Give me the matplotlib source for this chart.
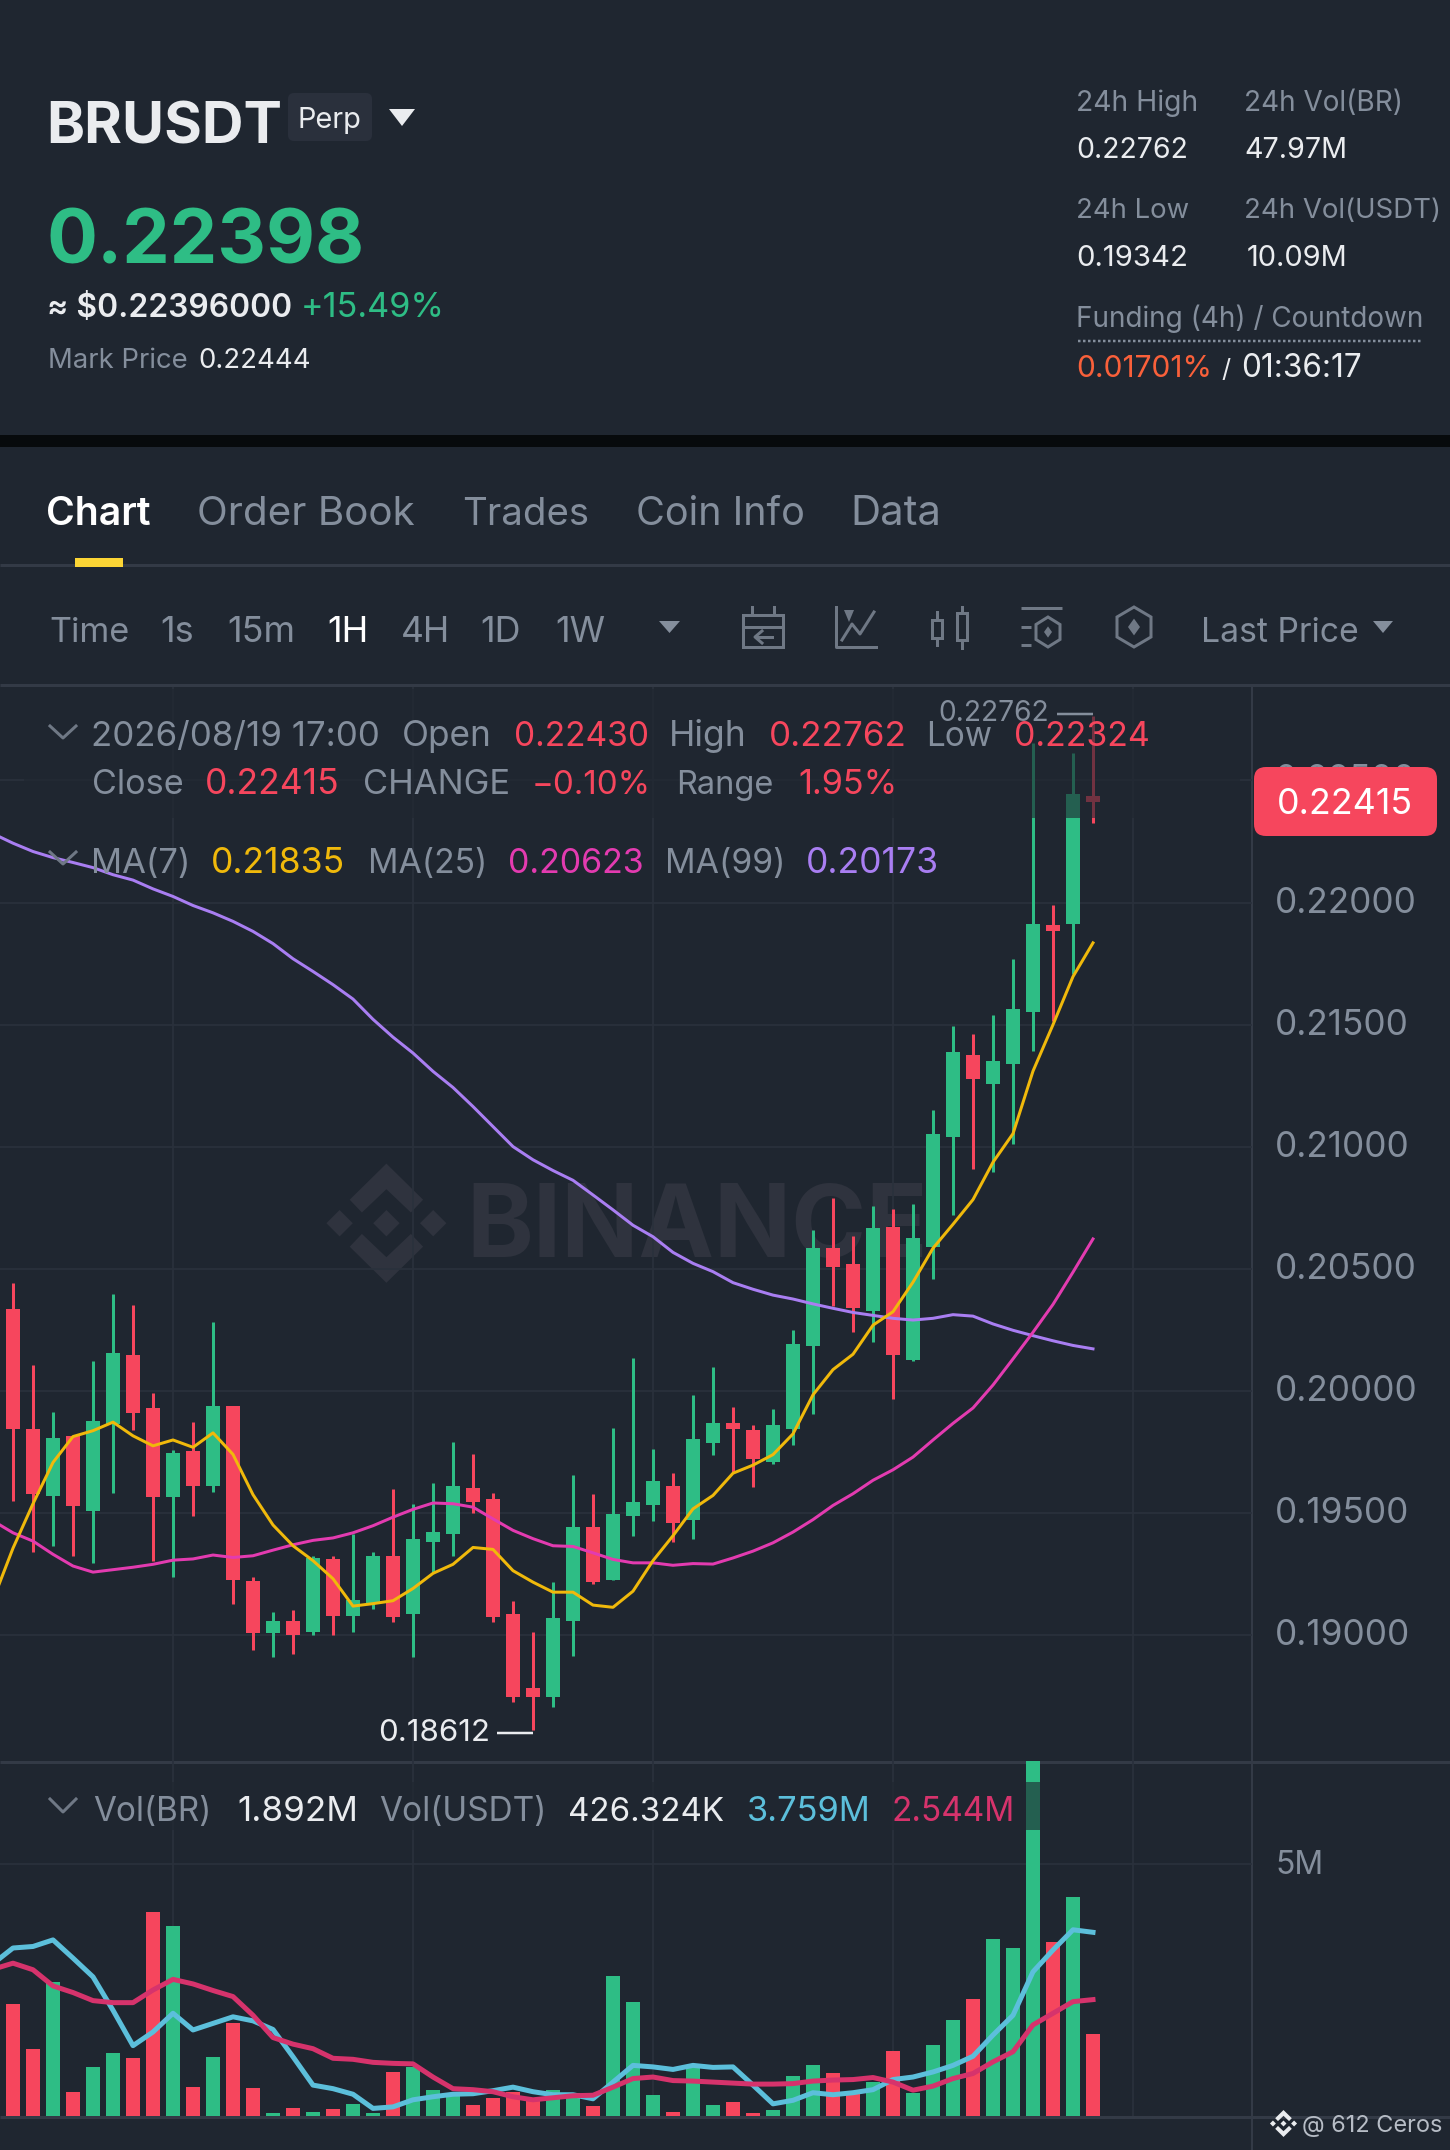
import matplotlib
matplotlib.use("Agg")
import matplotlib.pyplot as plt
from matplotlib.patches import Rectangle, Polygon, FancyBboxPatch
from matplotlib.textpath import TextPath
from matplotlib.font_manager import FontProperties
from matplotlib.transforms import ScaledTranslation

FAMILY = ['Inter', 'Noto Sans', 'DejaVu Sans']
plt.rcParams['font.family'] = FAMILY

# ---------- data ----------
opens = [.20335,.19846,.19572,.19817,.19510,.19864,.20146,.19931,.19566,.19754,.19610,.19939,.19221,.19010,.19057,
         .19015,.19313,.19079,.19130,.19327,.19088,.19383,.19415,.19604,.19557,.19086,.18784,.18747,.19060,.19442,
         .19225,.19488,.19535,.19610,.19474,.19788,.19868,.19842,.19709,.19846,.20183,.20586,.20520,.20330,.20671,
         .20126,.20592,.21039,.21376,.21257,.21339,.21553,.21908,.21914,.22430]
closes = [.19845,.19579,.19810,.19529,.19876,.20156,.19912,.19566,.19747,.19610,.19940,.19228,.19010,.19058,.19003,
          .19316,.19079,.19145,.19323,.19076,.19393,.19425,.19610,.19545,.19076,.18747,.18747,.19072,.19442,.19219,
          .19499,.19545,.19632,.19459,.19803,.19870,.19845,.19724,.19861,.20193,.20586,.20510,.20339,.20668,.20146,
          .20627,.21053,.21389,.21276,.21351,.21563,.21914,.21885,.22443,.22415]
highs = [.20444,.20107,.19914,.19817,.20123,.20396,.20354,.19993,.19759,.19873,.20282,.19940,.19238,.19095,.19102,
         .19327,.19325,.19415,.19341,.19598,.19539,.19623,.19791,.19744,.19583,.19140,.19012,.19218,.19655,.19579,
         .19851,.20137,.19762,.19665,.19985,.20097,.19933,.19861,.19925,.20249,.20658,.20792,.20636,.20757,.20747,
         .20768,.21152,.21496,.21463,.21539,.21769,.22655,.21990,.22614,.22762]
lows = [.19550,.19341,.19364,.19325,.19298,.19583,.19839,.19306,.19240,.19490,.19588,.19129,.18940,.18912,.18924,
        .19000,.19003,.19012,.19110,.19053,.18912,.19259,.19327,.19500,.19053,.18727,.18612,.18706,.18915,.19211,
        .19225,.19406,.19468,.19383,.19395,.19737,.19664,.19607,.19703,.19781,.19905,.20347,.20244,.20202,.19969,
        .20124,.20458,.20722,.20908,.20898,.21013,.21393,.21515,.21709,.22324]
ma7 = [.19145,.19357,.19539,.19708,.19814,.19838,.19873,.19817,.19776,.19800,.19770,.19829,.19741,.19576,.19452,
       .19367,.19306,.19232,.19120,.19130,.19142,.19192,.19254,.19291,.19360,.19352,.19265,.19218,.19177,.19177,
       .19124,.19115,.19181,.19306,.19408,.19518,.19573,.19664,.19697,.19740,.19825,.19985,.20088,.20151,.20270,
       .20325,.20446,.20585,.20683,.20784,.20937,.21054,.21310,.21500,.21697,.21835]
ma25 = [.19469,.19420,.19386,.19332,.19284,.19259,.19269,.19279,.19291,.19308,.19313,.19329,.19319,.19326,.19349,
        .19371,.19389,.19399,.19420,.19449,.19484,.19516,.19542,.19539,.19525,.19477,.19430,.19396,.19367,.19364,
        .19338,.19311,.19297,.19297,.19287,.19294,.19292,.19317,.19345,.19379,.19423,.19474,.19532,.19580,.19635,
        .19678,.19730,.19800,.19868,.19931,.20025,.20132,.20241,.20355,.20487,.20623]
ma99 = [.22282,.22243,.22209,.22184,.22164,.22143,.22114,.22092,.22056,.22025,.21988,.21958,.21923,.21882,.21832,
        .21770,.21718,.21664,.21605,.21522,.21449,.21384,.21309,.21243,.21165,.21083,.21001,.20947,.20903,.20863,
        .20803,.20742,.20679,.20632,.20568,.20523,.20489,.20444,.20417,.20393,.20377,.20357,.20339,.20322,.20310,
        .20298,.20291,.20298,.20313,.20307,.20275,.20249,.20227,.20206,.20187,.20173]
volumes = [2.24,1.35,2.66,.49,.98,1.27,1.16,4.06,3.78,.60,1.18,1.85,.58,.07,.17,.10,.15,.26,.07,.89,.98,.54,.46,.24,
           .37,.49,.35,.53,.48,.21,2.79,2.27,.44,.10,.99,.23,.29,.07,.13,.81,1.02,.87,.46,.70,1.31,.48,1.42,1.92,
           2.33,3.52,3.34,7.30,3.45,4.35,1.64]
vol_ma5 = [3.03,3.34,3.37,3.50,3.14,2.77,2.11,1.41,1.68,2.05,1.72,1.85,1.98,1.90,1.73,1.19,.63,.56,.45,.17,.20,.34,
           .40,.45,.46,.52,.59,.50,.44,.44,.36,.69,1.02,.99,.94,1.02,.98,.99,.63,.26,.33,.48,.44,.48,.54,.74,.79,
           .89,1.02,1.20,1.62,2.01,2.87,3.30,3.70,3.65]
vol_ma10 = [2.92,3.04,2.91,2.59,2.46,2.30,2.26,2.26,2.51,2.72,2.63,2.50,2.38,2.01,1.57,1.44,1.35,1.16,1.14,1.08,1.06,
            1.05,.79,.56,.54,.50,.40,.34,.38,.42,.43,.59,.76,.79,.72,.71,.69,.67,.65,.65,.66,.71,.73,.74,.78,.69,
            .53,.61,.76,.86,1.09,1.29,1.82,2.05,2.28,2.32]
price_ticks = [.19, .195, .20, .205, .21, .215, .22, .225]
price_labels = ['0.19000', '0.19500', '0.20000', '0.20500', '0.21000', '0.21500', '0.22000', '0.22500']
vol_ticks = [5]
vol_labels = ['5M']
time_ticks = [8, 20, 32, 44, 56]

# ---------- style ----------
W, H = 1450, 2150
BG = '#1F2630'
GRID = '#2A313C'
LINE = '#333A46'
GREEN = '#2EBD85'
RED = '#F6465D'
GRAY = '#848E9C'
WHITE = '#EAECEF'
YEL = '#F0B90B'
MAG = '#E33BB0'
PUR = '#A97EF2'
BLUE = '#5CBFDB'
CRIM = '#D6336C'
WM = '#2F333E'
px = 0.72  # points per pixel at dpi 100

fig = plt.figure(figsize=(W / 100, H / 100), dpi=100, facecolor=BG)


def pos(x0, y0, x1, y1):
    return [x0 / W, 1 - y1 / H, (x1 - x0) / W, (y1 - y0) / H]


under = fig.add_axes([0, 0, 1, 1], zorder=0)
over = fig.add_axes([0, 0, 1, 1], zorder=5)
for a in (under, over):
    a.set_xlim(0, W)
    a.set_ylim(H, 0)
    a.axis('off')
    a.patch.set_alpha(0)

# price panel: top 687, bottom 1761; 0.19 at 1635.4; 24428 px per unit
PX = 24428
ax = fig.add_axes(pos(0, 687, 1252, 1761), zorder=2)
ax.set_ylim(.19 - (1761 - 1635.4) / PX, .19 + (1635.4 - 687) / PX)
vx = fig.add_axes(pos(0, 1761, 1252, 2117), zorder=2)
vx.set_ylim(0, (2117 - 1761) / 50.6)
for a, size, pad in ((ax, 35.2, 23), (vx, 32, 23)):
    a.set_xlim(-0.65, 61.95)
    a.patch.set_alpha(0)
    for s in a.spines.values():
        s.set_visible(False)
    a.set_xticks(time_ticks)
    a.set_xticklabels([])
    a.tick_params(axis='x', length=0)
    a.tick_params(axis='y', length=0, left=False, right=True, labelleft=False, labelright=True,
                  labelsize=size * px, labelcolor=GRAY, pad=pad * px)
    a.grid(True, color=GRID, lw=1.8 * px, zorder=0)
    a.set_axisbelow(True)
ax.set_yticks(price_ticks)
ax.set_yticklabels(price_labels)
vx.set_yticks(vol_ticks)
vx.set_yticklabels(vol_labels)
for a, dy in ((ax, 3), (vx, 2)):
    for lab in a.get_yticklabels():
        lab.set_transform(lab.get_transform() + ScaledTranslation(0, dy / 100, fig.dpi_scale_trans))

idx = list(range(len(opens)))
colors = [GREEN if c >= o else RED for o, c in zip(opens, closes)]
ax.vlines(idx, lows, highs, colors=colors, lw=3 * px, zorder=3)
MIN_BODY = 0.00025
ax.bar(idx, [max(abs(c - o), MIN_BODY) for o, c in zip(opens, closes)],
       bottom=[min(o, c) if abs(c - o) >= MIN_BODY else (o + c - MIN_BODY) / 2 for o, c in zip(opens, closes)],
       width=0.68, color=colors, lw=0, zorder=3)
lx = list(range(-1, len(opens)))
ax.plot(lx, ma99, color=PUR, lw=3 * px, zorder=4, solid_joinstyle='round')
ax.plot(lx, ma25, color=MAG, lw=3 * px, zorder=4, solid_joinstyle='round')
ax.plot(lx, ma7, color=YEL, lw=3 * px, zorder=5, solid_joinstyle='round')

vx.bar(idx, volumes, width=0.68, color=colors, lw=0, zorder=3)
vx.plot(lx, vol_ma5, color=BLUE, lw=5 * px, zorder=4, solid_joinstyle='round')
vx.plot(lx, vol_ma10, color=CRIM, lw=5 * px, zorder=5, solid_joinstyle='round')


# ---------- helpers ----------
def fit(x0, x1, base, s, color=GRAY, weight='normal', a=over, z=8, cap=None):
    """Place s so that its ink spans x0..x1 in pixels, with the font size capped at cap pixels."""
    fp = FontProperties(family=FAMILY, weight=weight)
    bb = TextPath((0, 0), s, size=100, prop=fp).get_extents()
    F = (x1 - x0) / bb.width * 100
    if cap is not None:
        F = min(F, cap)
    return a.text(x0 - bb.x0 * F / 100, base, s, color=color, fontsize=F * px, fontweight=weight,
                  ha='left', va='baseline', zorder=z)


def hline(a, x0, x1, y, c, lw, z=6, **k):
    a.plot([x0, x1], [y, y], color=c, lw=lw * px, zorder=z, solid_capstyle='butt', **k)


def chevron(x0, x1, y0, y1):
    over.plot([x0, (x0 + x1) / 2, x1], [y0, y1, y0], color='#6F7885', lw=3 * px, zorder=8)


def tri(x0, x1, y0, y1, c):
    over.add_patch(Polygon([(x0, y0), (x1, y0), ((x0 + x1) / 2, y1)], closed=True, color=c, lw=0, zorder=8))


def logo(a, cx, cy, k, c, z):
    D = 13.2 * k
    for dx in (-46.8 * k, 0, 46.8 * k):
        a.add_patch(Polygon([(cx + dx - D, cy), (cx + dx, cy - D), (cx + dx + D, cy), (cx + dx, cy + D)],
                            closed=True, color=c, lw=0, zorder=z))
    for sgn in (1, -1):
        pts = [(0, 59.6), (36.7, 23.5), (24.5, 10.7), (0, 34), (-24.5, 10.7), (-36.7, 23.5)]
        a.add_patch(Polygon([(cx + p * k, cy + sgn * q * k) for p, q in pts], closed=True, color=c, lw=0, zorder=z))


# ---------- frame ----------
under.add_patch(Rectangle((0, 435), W, 12, color='#070A0C', lw=0))
hline(under, 0, W, 565, LINE, 3)
hline(under, 0, W, 685, LINE, 3)
hline(under, 0, W, 1761.5, LINE, 3)
hline(over, 0, W, 2117, LINE, 3, z=2)
under.plot([1252, 1252], [686, H], color=LINE, lw=2 * px, zorder=6)
under.add_patch(Rectangle((75, 558), 48, 9, color='#FCD535', lw=0, zorder=7))

# watermark
logo(under, 386.4, 1223.2, 1, WM, 2)
fit(473, 923, 1257, 'BINANCE', color=WM, weight='bold', a=under, z=2)

# legend panels dim whatever is drawn beneath them
over.add_patch(Rectangle((24, 689), 1216, 129, color=BG, alpha=0.62, lw=0, zorder=1))
over.add_patch(Rectangle((24, 1782), 1018, 48, color=BG, alpha=0.62, lw=0, zorder=1))

# ---------- header ----------
fit(50, 280, 144, 'BRUSDT', WHITE, 'bold')
over.add_patch(FancyBboxPatch((293, 98), 74, 38, boxstyle='round,pad=5,rounding_size=6', color='#2A303C', lw=0, zorder=3))
fit(300, 360, 128, 'Perp', WHITE)
tri(389, 415, 109, 126, WHITE)
fit(50, 361, 264, '0.22398', GREEN, 'bold')
fit(50, 291, 317, '≈ $0.22396000', WHITE, 600)
fit(304, 441, 317, '+15.49%', GREEN)
fit(50, 186, 368, 'Mark Price', GRAY)
fit(200, 309, 368, '0.22444', WHITE)

RC = 30.5
fit(1078, 1196, 111, '24h High', cap=RC)
fit(1246, 1400, 111, '24h Vol(BR)', cap=RC)
fit(1078, 1186, 158, '0.22762', WHITE, cap=RC)
fit(1246, 1345, 158, '47.97M', WHITE, cap=RC)
fit(1078, 1188, 218, '24h Low', cap=RC)
fit(1246, 1438, 218, '24h Vol(USDT)', cap=RC)
fit(1078, 1186, 266, '0.19342', WHITE, cap=RC)
fit(1248, 1345, 266, '10.09M', WHITE, cap=RC)
fit(1078, 1421, 327, 'Funding (4h) / Countdown', cap=RC)
over.plot([1078, 1422], [341, 341], color=GRAY, lw=2.5 * px, ls=(0, (1, 1)), zorder=8)
fit(1078, 1209, 377, '0.01701%', '#F9603A', cap=RC)
fit(1222, 1230, 377, '/', WHITE, cap=RC)
fit(1243, 1360, 377, '01:36:17', WHITE, cap=RC + 2)

# tabs
for x0, x1, s, c in [(48, 150, 'Chart', '#FFFFFF'), (199, 414, 'Order Book', GRAY), (464, 587, 'Trades', GRAY),
                     (638, 803, 'Coin Info', GRAY), (854, 938, 'Data', GRAY)]:
    fit(x0, x1, 525, s, c, 600 if s == 'Chart' else 'normal', cap=42)
for x0, x1, s, c in [(51, 128, 'Time', GRAY), (162, 196, '1s', GRAY), (229, 295, '15m', GRAY), (329, 371, '1H', '#FFFFFF'),
                     (403, 447, '4H', GRAY), (482, 522, '1D', GRAY), (557, 606, '1W', GRAY), (1204, 1357, 'Last Price', GRAY)]:
    fit(x0, x1, 642, s, c, cap=36)
tri(659, 680, 621, 633, GRAY)
tri(1373, 1393, 621, 633, GRAY)

# toolbar icons
IC = '#6F7885'
ilw = 3 * px
over.add_patch(Rectangle((743, 615), 40, 32, fill=False, ec=IC, lw=ilw, zorder=8))
over.plot([743, 783], [627, 627], color=IC, lw=ilw, zorder=8)
for xx in (752, 774):
    over.plot([xx, xx], [607, 615], color=IC, lw=ilw, zorder=8)
over.plot([772, 756], [637, 637], color=IC, lw=ilw, zorder=8)
over.plot([762, 755, 762], [631, 637, 643], color=IC, lw=ilw, zorder=8)
over.plot([836, 836, 876], [607, 647, 647], color=IC, lw=ilw, zorder=8)
over.plot([842, 852, 860, 874], [640, 624, 634, 612], color=IC, lw=ilw, zorder=8)
tri(844, 854, 610, 622, IC)
over.add_patch(Rectangle((932, 620), 10, 18, fill=False, ec=IC, lw=ilw, zorder=8))
over.add_patch(Rectangle((957, 613), 10, 27, fill=False, ec=IC, lw=ilw, zorder=8))
over.plot([937, 937], [612, 620], color=IC, lw=ilw, zorder=7)
over.plot([937, 937], [638, 645], color=IC, lw=ilw, zorder=7)
over.plot([962, 962], [607, 613], color=IC, lw=ilw, zorder=7)
over.plot([962, 962], [640, 648], color=IC, lw=ilw, zorder=7)
hline(over, 1021, 1062, 608, IC, 3, z=8)
hline(over, 1021, 1031, 627, IC, 3, z=8)
hline(over, 1021, 1031, 645, IC, 3, z=8)
for cx, cy, hw, hh, dd in [(1048, 632, 12, 15, 4), (1134, 627, 17, 20, 6)]:
    over.add_patch(Polygon([(cx, cy - hh), (cx + hw, cy - hh / 2), (cx + hw, cy + hh / 2), (cx, cy + hh),
                            (cx - hw, cy + hh / 2), (cx - hw, cy - hh / 2)], closed=True, fill=False, ec=IC, lw=ilw, zorder=8))
    over.add_patch(Polygon([(cx, cy - dd * 1.4), (cx + dd, cy), (cx, cy + dd * 1.4), (cx - dd, cy)], closed=True, color=IC, lw=0, zorder=8))

# chart legend
LC = 35.5
chevron(50, 76, 726, 738)
for x0, x1, s, c in [(94, 378, '2026/08/19 17:00', GRAY), (404, 489, 'Open', GRAY), (516, 647, '0.22430', RED),
                     (672, 750, 'High', GRAY), (771, 904, '0.22762', RED), (929, 991, 'Low', GRAY), (1016, 1148, '0.22324', RED)]:
    fit(x0, x1, 746, s, c, cap=LC)
for x0, x1, s, c in [(94, 182, 'Close', GRAY), (207, 338, '0.22415', RED), (365, 508, 'CHANGE', GRAY), (535, 647, '−0.10%', RED),
                     (679, 772, 'Range', GRAY), (800, 894, '1.95%', RED)]:
    fit(x0, x1, 794, s, c, cap=LC)
chevron(50, 76, 852, 864)
for x0, x1, s, c in [(94, 187, 'MA(7)', GRAY), (213, 344, '0.21835', YEL), (371, 484, 'MA(25)', GRAY), (510, 642, '0.20623', MAG),
                     (668, 782, 'MA(99)', GRAY), (808, 938, '0.20173', PUR)]:
    fit(x0, x1, 873, s, c, cap=LC)

# extreme markers
fit(940, 1047, 721, '0.22762', '#848E9C')
hline(over, 1057, 1093, 714, '#848E9C', 2.5, z=8)
fit(380, 488, 1741, '0.18612', WHITE)
hline(over, 497, 533, 1733, WHITE, 2.5, z=8)

# current price tag
over.add_patch(FancyBboxPatch((1266, 779), 159, 45, boxstyle='round,pad=12,rounding_size=12', color=RED, lw=0, zorder=7))
fit(1279, 1411, 814, '0.22415', '#FFFFFF')

# volume legend
chevron(50, 76, 1799, 1812)
for x0, x1, s, c in [(94, 208, 'Vol(BR)', GRAY), (239, 355, '1.892M', WHITE), (380, 543, 'Vol(USDT)', GRAY),
                     (570, 723, '426.324K', WHITE), (749, 868, '3.759M', BLUE), (894, 1012, '2.544M', CRIM)]:
    fit(x0, x1, 1821, s, c, cap=LC)

# attribution
logo(over, 1283.5, 2123.5, 0.226, WHITE, 8)
fit(1303, 1441, 2132, '@ 612 Ceros', '#B7BDC6')

fig.savefig('out.png', dpi=100, facecolor=BG)
